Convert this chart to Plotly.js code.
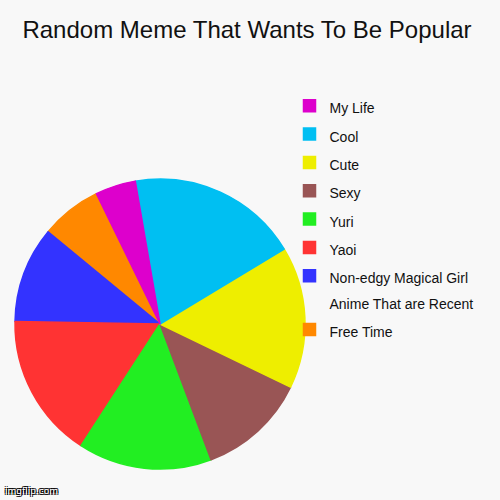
<!DOCTYPE html>
<html>
<head>
<meta charset="utf-8">
<script src="https://cdn.plot.ly/plotly-3.0.1.min.js"></script>
<style>html,body{margin:0;padding:0;background:#f8f8f8;}#chart{width:500px;height:500px;}</style>
</head>
<body>
<div id="chart"></div>
<script>
// Data (order as drawn counter-clockwise)
var labels = ["Free Time", "Non-edgy Magical Girl<br>Anime That are Recent", "Yaoi", "Yuri", "Sexy", "Cute", "Cool", "My Life"];
var values = [6.8, 10.7, 16.1, 14.9, 12.1, 15.8, 19.1, 4.5];
var colors = ["#ff8800", "#3333ff", "#ff3333", "#22ee22", "#995555", "#eeee00", "#00bff2", "#dd00cc"];

var legendLabels = labels.map(function(l){ return '<span style="font-size:14px">' + l + '</span>'; });

var trace = {
  type: 'pie',
  labels: legendLabels,
  values: values,
  sort: false,
  direction: 'counterclockwise',
  rotation: -50.5,
  textinfo: 'none',
  hoverinfo: 'label+percent',
  marker: { colors: colors, line: { color: colors, width: 1.5 } },
  domain: { x: [0.03, 0.61], y: [0.062, 0.642] }
};

var layout = {
  width: 500, height: 500,
  margin: { l: 0, r: 0, t: 0, b: 0 },
  paper_bgcolor: '#f8f8f8',
  plot_bgcolor: '#f8f8f8',
  title: {
    text: 'Random Meme That Wants To Be Popular',
    font: { family: 'Liberation Sans, Arial, sans-serif', size: 24, color: '#111' },
    x: 0.494, xanchor: 'center', y: 0.94, yanchor: 'middle'
  },
  showlegend: true,
  legend: {
    traceorder: 'reversed',
    x: 0.579, xanchor: 'left',
    y: 0.827, yanchor: 'top',
    valign: 'top',
    bgcolor: 'rgba(0,0,0,0)',
    font: { family: 'Liberation Sans, Arial, sans-serif', size: 19.5, color: '#111' }
  },
  annotations: [{
    text: 'imgflip.com', xref: 'paper', yref: 'paper', x: 0.006, y: 0.004,
    xanchor: 'left', yanchor: 'bottom', showarrow: false,
    font: { family: 'DejaVu Sans, sans-serif', size: 9, color: '#ffffff', shadow: '1px 1px 0 #000, -1px -1px 0 #000, 1px -1px 0 #000, -1px 1px 0 #000' }
  }]
};

Plotly.newPlot('chart', [trace], layout, { displayModeBar: false, staticPlot: true });
</script>
</body>
</html>
